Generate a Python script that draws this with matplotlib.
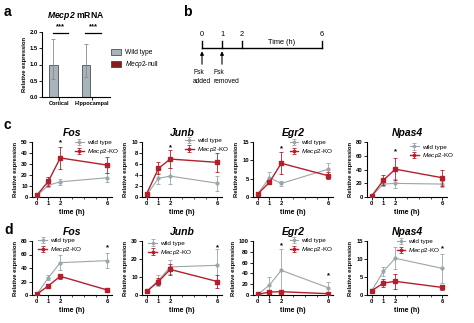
import numpy as np
import matplotlib
matplotlib.use('Agg')
import matplotlib.pyplot as plt

plt.rcParams['font.family'] = ['Liberation Sans', 'DejaVu Sans']
plt.rcParams['mathtext.fontset'] = 'custom'
plt.rcParams['mathtext.it'] = 'Liberation Sans:italic'
plt.rcParams['mathtext.rm'] = 'Liberation Sans'
plt.rcParams['mathtext.bfit'] = 'Liberation Sans:italic:bold'

####Data####
# panel a
regions = ['Cortical', 'Hippocampal']
mecp2_wt = [1.0, 1.0]
mecp2_wt_lo = [0.45, 0.38]
mecp2_wt_hi = [0.8, 0.63]
mecp2_null = [0.01, 0.01]

# panel b
timeline_hours = [0, 1, 2, 6]
fsk_events = [0, 1]
fsk_labels = ['Fsk\nadded', 'Fsk\nremoved']

# panels c and d
times = [0, 1, 2, 6]
genes = ['Fos', 'Junb', 'Egr2', 'Npas4']

c_wt = [[1, 10.7, 13.8, 17.5], [0.4, 3.4, 3.8, 2.5], [0.8, 5.3, 3.7, 7.6], [1.5, 18.8, 19.8, 18.8]]
c_wt_err = [[0.5, 1.5, 2.5, 4], [0.2, 1.0, 1.5, 1.4], [0.1, 1.4, 0.8, 1.6], [0.5, 3, 6, 4]]
c_ko = [[1.5, 14.4, 35.5, 29], [0.6, 5.2, 6.9, 6.3], [0.8, 4.0, 9.2, 5.8], [1.5, 24.5, 40.5, 28]]
c_ko_err = [[0.5, 4, 10, 7], [0.3, 1.1, 1.6, 1.7], [0.1, 0.5, 3.0, 0.9], [0.5, 7.5, 16, 12]]
c_ymax = [50, 10, 15, 80]
c_ystep = [10, 2, 5, 20]
c_stars = [[(2, 49)], [(2, 8.9)], [(2, 13.2)], [(2, 66)]]

d_wt = [[1, 25.7, 47.9, 50.9], [2, 8.1, 15.6, 16.5], [1, 18.3, 45.7, 13.4], [1.2, 6.6, 10.2, 7.4]]
d_wt_err = [[0.5, 4, 11.5, 11.5], [0.5, 3, 4, 9], [0.5, 15, 39, 10.5], [0.2, 1.3, 3, 4]]
d_ko = [[1, 13.8, 27.7, 7.4], [2, 7.5, 14.2, 7.5], [1, 5.5, 6.1, 2.4], [1.2, 3.3, 3.8, 2.1]]
d_ko_err = [[0.5, 3, 3.5, 3], [0.5, 2, 3, 3.5], [0.3, 2, 2, 1], [0.2, 1.1, 2, 0.8]]
d_ymax = [80, 30, 100, 15]
d_ystep = [20, 10, 20, 5]
d_stars = [[(6, 70)], [(6, 26)], [(2, 91), (6, 36)], [(6, 12.8)]]

wt_col = '#9aa6aa'
ko_col = '#b3202c'

W, H = 474, 323
fig = plt.figure(figsize=(W / 100, H / 100), dpi=100)

def px_axes(left, top, right, bottom):
    return fig.add_axes([left / W, 1 - bottom / H, (right - left) / W, (bottom - top) / H])

def style_ax(ax):
    for s in ['top', 'right']:
        ax.spines[s].set_visible(False)
    for s in ['left', 'bottom']:
        ax.spines[s].set_linewidth(0.8)
    ax.tick_params(labelsize=4.2, width=0.6, length=2, pad=1)

####Panel a####
ax = px_axes(42, 32, 110, 97)
x = np.arange(len(regions))
ax.bar(x - 0.17, mecp2_wt, 0.25, color='#a7b4bb', edgecolor='#333333', linewidth=0.5,
       yerr=[mecp2_wt_lo, mecp2_wt_hi], error_kw=dict(ecolor='#888888', elinewidth=0.6, capsize=1.5, capthick=0.6))
ax.bar(x + 0.17, mecp2_null, 0.25, color='#8b1a1a', edgecolor='#333333', linewidth=0.5)
ax.set_xlim(-0.52, 1.55)
ax.set_ylim(0, 2.0)
ax.set_yticks([0, 0.5, 1.0, 1.5, 2.0])
ax.set_yticklabels(['0.0', '0.5', '1.0', '1.5', '2.0'], fontweight='bold')
ax.set_xticks(x)
style_ax(ax)
ax.set_xticklabels(regions, fontsize=4.0, fontweight='bold')
ax.set_ylabel('Relative expression', fontsize=4.2, fontweight='bold', labelpad=2)
ax.set_title('$\\mathbfit{Mecp2}$ mRNA', fontsize=6.2, fontweight='bold', pad=10)
for xi in x:
    ax.plot([xi - 0.2, xi + 0.28], [1.98, 1.98], color='black', lw=0.9, clip_on=False)
    ax.text(xi + 0.04, 2.05, '***', ha='center', va='bottom', fontsize=5.5, fontweight='bold')
hw = ax.patches[0]
hn = ax.patches[2]
fig.legend([hw, hn], ['Wild type', '$\\it{Mecp2}$-null'], loc='upper left',
           bbox_to_anchor=(108 / W, 1 - 46 / H), frameon=False, fontsize=4.8,
           handlelength=1.4, handleheight=0.9, labelspacing=0.4, borderpad=0, handletextpad=0.6)
fig.text(4 / W, 1 - 12 / H, 'a', fontsize=10, fontweight='bold', va='center')

####Panel b####
axb = px_axes(190, 25, 340, 95)
axb.set_xlim(-0.6, 6.9)
axb.set_ylim(95, 25)
axb.axis('off')
axb.plot([timeline_hours[0], timeline_hours[-1]], [48, 48], color='black', lw=1)
for hr in timeline_hours:
    axb.plot([hr, hr], [48, 41], color='black', lw=1)
    axb.text(hr, 35, str(hr), ha='center', va='center', fontsize=5.3)
axb.text(4, 42, 'Time (h)', ha='center', va='center', fontsize=5.3)
for hr, lab in zip(fsk_events, fsk_labels):
    axb.annotate('', xy=(hr, 48.5), xytext=(hr, 67),
                 arrowprops=dict(arrowstyle='-|>', color='black', lw=0.8, mutation_scale=5))
    axb.text(hr - 0.45, 69, lab, ha='left', va='top', fontsize=4.8, linespacing=1.3)
fig.text(183 / W, 1 - 12 / H, 'b', fontsize=10, fontweight='bold', va='center')

####Panels c and d####
lefts = [32, 142, 253, 367]
c_leg = [(0.5, 1.1), (0.5, 1.14), (0.42, 1.1), (0.5, 1.02)]
d_leg = [(0.04, 1.12), (0.04, 1.07), (0.42, 1.12), (0.33, 1.1)]

def time_panel(left, top, bottom, gene, wt, wt_err, ko, ko_err, ymax, ystep, stars, leg):
    ax = px_axes(left, top, left + 80, bottom)
    ax.errorbar(times, wt, yerr=wt_err, color=wt_col, marker='o', ms=2, lw=0.8,
                elinewidth=0.6, capsize=1.2, capthick=0.6, label='wild type', zorder=3)
    ax.errorbar(times, ko, yerr=ko_err, color=ko_col, marker='s', ms=2.5, lw=1.0,
                elinewidth=0.6, capsize=1.2, capthick=0.6, label='$\\it{Mecp2}$-KO', zorder=4)
    ax.set_xlim(-0.4, 6.4)
    ax.set_ylim(0, ymax)
    ax.set_yticks(np.arange(0, ymax + ystep / 2, ystep))
    ax.set_xticks(times)
    ax.set_xticks([3, 4, 5], minor=True)
    style_ax(ax)
    ax.tick_params(which='minor', length=1.2, width=0.5)
    for lab in ax.get_xticklabels() + ax.get_yticklabels():
        lab.set_fontweight('bold')
    ax.set_xlabel('time (h)', fontsize=5, fontweight='bold', labelpad=2)
    ax.set_ylabel('Relative expression', fontsize=4.2, fontweight='bold', labelpad=2)
    ax.set_title(gene, fontsize=7.5, fontweight='bold', style='italic', pad=4)
    for sx, sy in stars:
        ax.text(sx, sy, '*', ha='center', va='center', fontsize=5.5, fontweight='bold')
    ax.legend(loc='upper left', bbox_to_anchor=leg, frameon=False, fontsize=4.6,
              handlelength=1.3, labelspacing=0.3, borderpad=0, handletextpad=0.5, markerscale=0.8)

for i, g in enumerate(genes):
    time_panel(lefts[i], 142, 197, g, c_wt[i], c_wt_err[i], c_ko[i], c_ko_err[i],
               c_ymax[i], c_ystep[i], c_stars[i], c_leg[i])
    time_panel(lefts[i], 241, 295, g, d_wt[i], d_wt_err[i], d_ko[i], d_ko_err[i],
               d_ymax[i], d_ystep[i], d_stars[i], d_leg[i])

fig.text(4 / W, 1 - 125 / H, 'c', fontsize=10, fontweight='bold', va='center')
fig.text(4 / W, 1 - 230 / H, 'd', fontsize=10, fontweight='bold', va='center')

fig.savefig('out.png', dpi=100)
